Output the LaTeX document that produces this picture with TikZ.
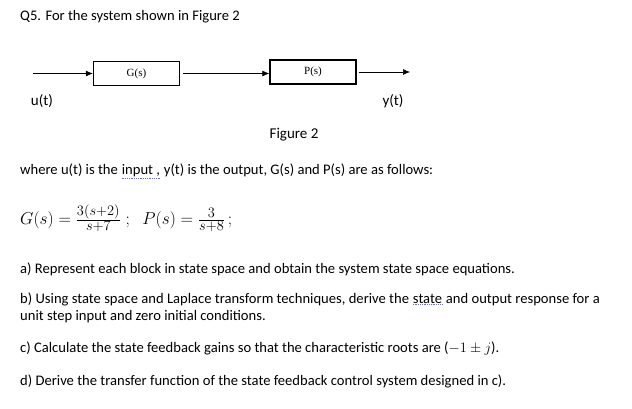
\documentclass[tikz,border=0pt]{standalone}
\usepackage{fontspec}
\setmainfont{Carlito}
\newfontfamily\boxfont{Liberation Serif}
\usetikzlibrary{arrows.meta}
\newcommand{\wavy}[1]{\tikz[baseline=(w.base)]{\node[inner sep=0pt](w){#1};\draw[blue!60,densely dotted,line width=0.8pt]([yshift=-1.5pt]w.south west)--([yshift=-1.5pt]w.south east);}}
\begin{document}
\begin{tikzpicture}[x=1pt,y=-1pt,
  blk/.style={draw,line width=1.4pt,minimum width=86pt,minimum height=24pt,inner sep=0pt,font=\boxfont\fontsize{11}{13}\selectfont},
  arr/.style={-{Latex[length=7pt,width=6pt]},line width=0.6pt},
  txt/.style={anchor=west,inner sep=0pt,font=\fontsize{14.6}{17}\selectfont}]
\useasboundingbox (0,0) rectangle (632,408);
\node[txt] (q) at (20,17) {Q5. For the system shown in Figure 2};
\node[blk] (g) at (136.5,73.5) {G(s)};
\node[blk] (p) at (313,72) {P(s)};
\coordinate (in) at (33,73.5);
\coordinate (out) at (410,72);
\draw[arr] (in) -- (g.west);
\draw[arr] (g.east) ++(3,0) -- (p.west|-g.east);
\draw[arr] (p.east) ++(2,0) -- (out);
\node[txt,anchor=center,font=\fontsize{15}{17}\selectfont] (u) at (42,101) {u(t)};
\node[txt,anchor=center,font=\fontsize{15}{17}\selectfont] (y) at (393,101) {y(t)};
\node[txt,anchor=center,font=\fontsize{15}{17}\selectfont] (f) at (294,135) {Figure 2};
\node[txt] (w) at (20,171) {where u(t) is the \wavy{input ,} y(t) is the output, G(s) and P(s) are as follows:};
\node[txt,font=\fontsize{19}{22}\selectfont] (eq) at (20,218) {$G(s)=\frac{3(s+2)}{s+7}\;;\;\; P(s)=\frac{3}{s+8}\,;$};
\node[txt] (a) at (20,269) {a) Represent each block in state space and obtain the system state space equations.};
\node[txt] (b1) at (20,299) {b) Using state space and Laplace transform techniques, derive the \wavy{state} and output response for a};
\node[txt] (b2) at (20,317) {unit step input and zero initial conditions.};
\node[txt] (c) at (20,349) {c) Calculate the state feedback gains so that the characteristic roots are ($-1\pm j$).};
\node[txt] (d) at (20,381) {d) Derive the transfer function of the state feedback control system designed in c).};
\end{tikzpicture}
\end{document}
